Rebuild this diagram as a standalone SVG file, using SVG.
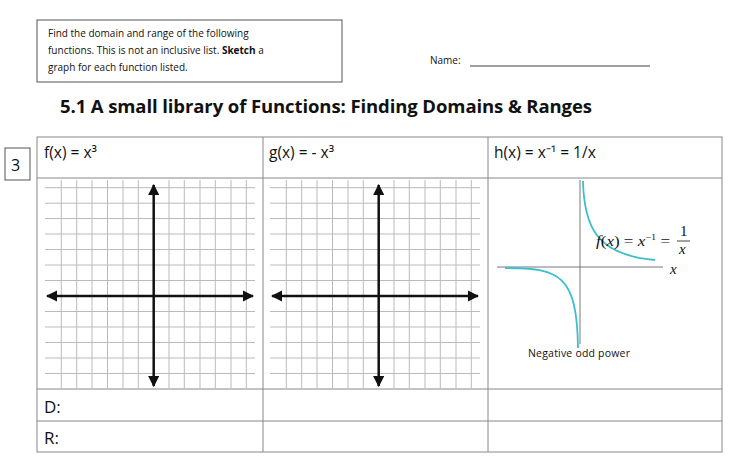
<svg xmlns="http://www.w3.org/2000/svg" width="729" height="461" viewBox="0 0 729 461">
<defs>
<style>
text{font-family:"Open Sans","Liberation Sans",sans-serif;fill:#111}
.g{stroke:#bbb;stroke-width:1}
.ax{stroke:#111;stroke-width:2.5;fill:none}
.b{stroke:#555;fill:none;stroke-width:1}
.s{font-family:"Liberation Serif",serif;font-size:15px}
</style>
<marker id="ah" viewBox="0 0 10 10" refX="9" refY="5" markerWidth="4.5" markerHeight="4.5" orient="auto-start-reverse"><path d="M0,0L10,5L0,10z" fill="#111"/></marker>
<g id="grid">
<path class="g" d="M61.3,180V388M76.7,180V388M92,180V388M107.5,180V388M123,180V388M138.3,180V388M169,180V388M184.3,180V388M200,180V388M215.3,180V388M231,180V388M246.3,180V388M45,187.7H255M45,203.2H255M45,218.5H255M45,234H255M45,249.5H255M45,265H255M45,280.5H255M45,311.5H255M45,327H255M45,342.5H255M45,358H255M45,373.5H255"/>
<line class="ax" x1="153.7" y1="185" x2="153.7" y2="386" marker-start="url(#ah)" marker-end="url(#ah)"/>
<line class="ax" x1="47" y1="296" x2="253" y2="296" marker-start="url(#ah)" marker-end="url(#ah)"/>
</g>
</defs>
<rect width="729" height="461" fill="#fff"/>
<g id="instructions">
<rect class="b" x="37" y="20" width="305" height="62"/>
<text x="48" y="37" font-size="10">Find the domain and range of the following</text>
<text x="48" y="54" font-size="10">functions. This is not an inclusive list. <tspan font-weight="bold">Sketch</tspan> a</text>
<text x="48" y="71" font-size="10">graph for each function listed.</text>
</g>
<g id="name">
<text x="430" y="64" font-size="10">Name:</text>
<line x1="470" y1="66" x2="650" y2="66" stroke="#111" stroke-width="0.8"/>
</g>
<text id="title" x="60" y="113" font-size="18.5" font-weight="bold" textLength="532">5.1 A small library of Functions: Finding Domains &amp; Ranges</text>
<g id="num"><rect class="b" x="5" y="148" width="25" height="32"/><text x="11" y="171" font-size="16">3</text></g>
<g id="table" stroke="#888" fill="none">
<rect x="37" y="137" width="685" height="315"/>
<path d="M37,178H722M37,389H722M37,421H722M263,137V452M488,137V452"/>
</g>
<g id="labels" font-size="15.5">
<text x="44" y="158">f(x) = x³</text>
<text x="269" y="158">g(x) = - x³</text>
<text x="494" y="158">h(x) = x⁻¹ = 1/x</text>
<text x="44" y="413" font-size="17">D:</text>
<text x="44" y="444" font-size="17">R:</text>
</g>
<g id="graph1"><use href="#grid"/></g>
<g id="graph2"><use href="#grid" x="225"/></g>
<g id="graph3">
<path d="M497,267H663M580,180V344" stroke="#555" stroke-width="0.8" fill="none"/>
<path d="M583,181C584,225 595,255 655,260M505,268C560,268 577,275 578,348" stroke="#3bbfd0" stroke-width="1.8" fill="none"/>
<text x="596" y="246" class="s" textLength="74" lengthAdjust="spacingAndGlyphs"><tspan font-style="italic">f</tspan>(<tspan font-style="italic">x</tspan>) = <tspan font-style="italic">x</tspan><tspan font-size="9" dy="-6">−1</tspan><tspan dy="6"> = </tspan></text>
<text x="680" y="236" class="s">1</text>
<line x1="677" y1="241" x2="690" y2="241" stroke="#111" stroke-width="0.8"/>
<text x="679" y="254" class="s" font-style="italic">x</text>
<text x="670" y="274" class="s" font-style="italic">x</text>
<text x="528" y="357" font-family="Liberation Sans Narrow,Liberation Sans,sans-serif" font-size="10.5" textLength="102">Negative odd power</text>
</g>
</svg>
